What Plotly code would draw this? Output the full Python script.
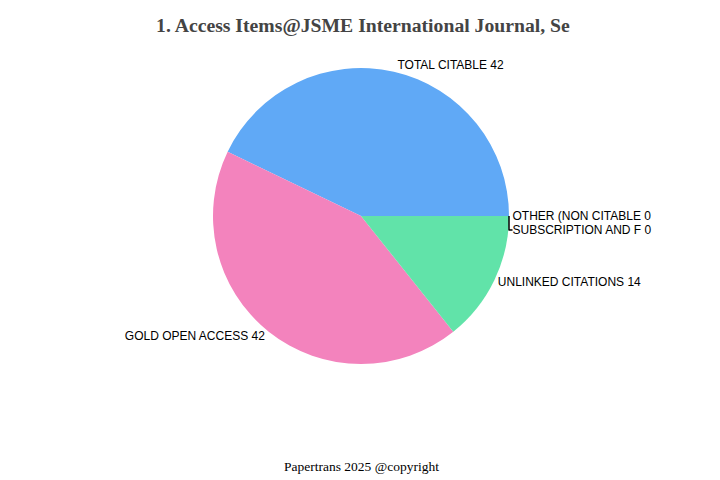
import plotly.graph_objects as go

labels = ["TOTAL CITABLE", "GOLD OPEN ACCESS", "UNLINKED CITATIONS",
          "OTHER (NON CITABLE", "SUBSCRIPTION AND F"]
values = [42, 42, 14, 0, 0]
colors = ["#60A9F6", "#F383BD", "#61E3A9", "#F6C85F", "#9F86FF"]

title_text = "1. Access Items@JSME International Journal, Se"
footer_text = "Papertrans 2025 @copyright"

# first slice starts at 3 o'clock and runs counterclockwise
rot = 90 - 360 * values[0] / sum(values)

fig = go.Figure(go.Pie(
    labels=labels,
    values=values,
    sort=False,
    direction="counterclockwise",
    rotation=rot,
    automargin=False,
    marker=dict(colors=colors, line=dict(width=0)),
    texttemplate="%{label} %{value}",
    textposition="outside",
    textfont=dict(family="Liberation Sans, Arial", size=12, color="#000"),
    showlegend=False,
    hoverinfo="label+value",
))

fig.update_layout(
    width=720, height=480,
    paper_bgcolor="white", plot_bgcolor="white",
    margin=dict(l=40, r=54, t=60, b=124, autoexpand=False),
    title=dict(text=title_text, x=0.493, xref="container", y=0.965, xanchor="center", yanchor="middle",
               font=dict(family="Liberation Serif, Times New Roman", size=19.7, color="#444",
                         weight="bold")),
    annotations=[dict(text=footer_text, x=0.5, y=-0.345, xref="paper", yref="paper",
                      yanchor="middle", showarrow=False,
                      font=dict(family="Liberation Serif, Times New Roman", size=13.5, color="#000"))],
)

fig.write_html("out.html")
